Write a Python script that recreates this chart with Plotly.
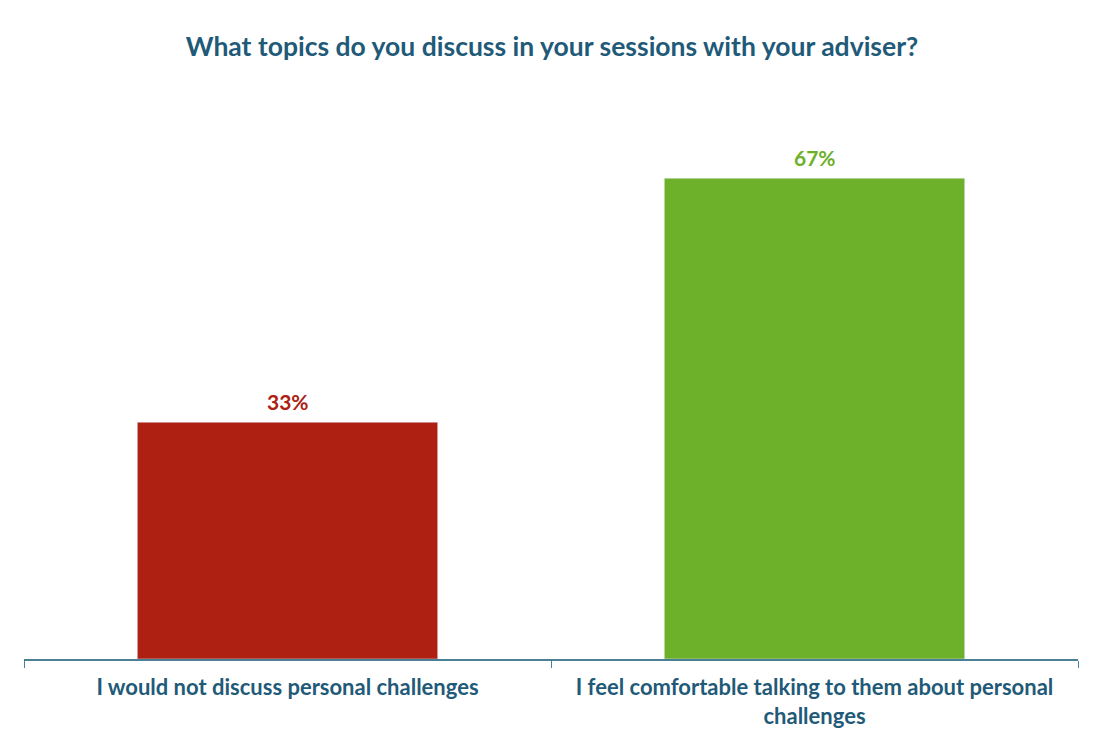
import plotly.graph_objects as go

categories = [
    "I would not discuss personal challenges",
    "I feel comfortable talking to them about personal<br>challenges",
]
values = [33, 67]
labels = ["33%", "67%"]
colors = ["#AD2012", "#6DB02A"]

TEAL = "#1F5A78"
AXIS = "#4A7F95"

fig = go.Figure(
    go.Bar(
        x=categories,
        y=values,
        marker_color=colors,
        hoverinfo="x+y",
    )
)

# value labels above the bars
for cat, val, lab, col in zip(categories, values, labels, colors):
    fig.add_annotation(
        x=cat, y=val, text="<b>" + lab + "</b>",
        showarrow=False, yanchor="middle", yshift=21,
        font=dict(family="Lato", size=21, color=col),
    )

# page sits 8px in from the window edge, margins allow for that
fig.update_layout(
    width=1107,
    height=751,
    margin=dict(l=16, r=37, t=77, b=100),
    paper_bgcolor="white",
    plot_bgcolor="white",
    bargap=0.43,
    showlegend=False,
    font=dict(family="Lato", color=TEAL),
    title=dict(
        text="<b>What topics do you discuss in your sessions with your adviser?</b>",
        x=(552 - 8) / 1107,
        xanchor="center",
        y=1 - 39 / 751,
        yanchor="middle",
        font=dict(family="Lato", size=26.5, color=TEAL),
    ),
)

fig.update_xaxes(
    showline=True,
    linecolor=AXIS,
    linewidth=1.5,
    ticks="outside",
    tickson="boundaries",
    ticklen=7,
    tickcolor=AXIS,
    ticklabelstandoff=8,
    tickfont=dict(family="Lato", size=22, color=TEAL),
    tickprefix="<b>",
    ticksuffix="</b>",
)
fig.update_yaxes(range=[0, 80], visible=False, showgrid=False)

fig.write_html("out.html")
